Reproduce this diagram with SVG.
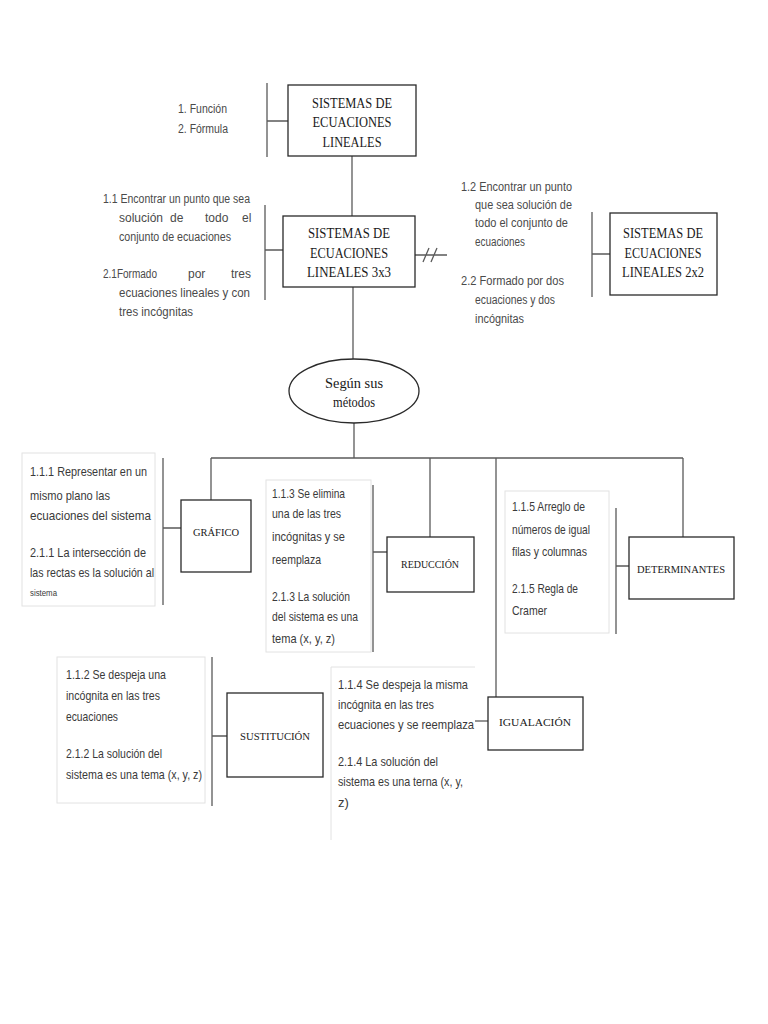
<svg xmlns="http://www.w3.org/2000/svg" width="768" height="1024" viewBox="0 0 768 1024">
<style>
.box{fill:#fff;stroke:#2a2a2a;stroke-width:1.3}
.nbox{fill:#fff;stroke:#e2e2e2;stroke-width:1}
.ln{stroke:#5a5a5a;stroke-width:1.3;fill:none}
.t{font-family:"Liberation Serif","Times New Roman",serif;font-size:15px;fill:#1a1a1a;text-anchor:middle}
.m{font-family:"Liberation Serif","Times New Roman",serif;font-size:11px;fill:#1a1a1a;text-anchor:middle}
.n{font-family:"Liberation Sans Narrow","Liberation Sans",Arial,sans-serif;font-size:12px;fill:#4a4a4a}
.b{font-family:"Liberation Sans Narrow","Liberation Sans",Arial,sans-serif;font-size:13px;fill:#3a3a3a}
.s{font-size:9px}
</style>
<rect width="768" height="1024" fill="#fff"/>
<g id="connectors">
<path class="ln" d="M267 83V157M267 121H288"/>
<path class="ln" d="M352 156V216"/>
<path class="ln" d="M265 205V300M265 250H283"/>
<path class="ln" d="M415 255H447M423 262L429 248M431 262L437 248"/>
<path class="ln" d="M592 212V297M592 254H610"/>
<path class="ln" d="M353 287V359"/>
<path class="ln" d="M354 423V458"/>
<path class="ln" d="M211 458H683"/>
<path class="ln" d="M211 458V500M430 458V537M496 458V697M683 458V537"/>
<path class="ln" d="M163 458V605M163 528H181"/>
<path class="ln" d="M373 485V652M373 552H387"/>
<path class="ln" d="M616 508V634M616 566H629"/>
<path class="ln" d="M212 657V806M212 736H227"/>
<path class="ln" d="M475 721H488"/>
</g>
<g id="n-funcion">
<text class="n" x="178" y="113" textLength="49" lengthAdjust="spacingAndGlyphs">1. Función</text>
<text class="n" x="178" y="133" textLength="50" lengthAdjust="spacingAndGlyphs">2. Fórmula</text>
</g>
<g id="node-top">
<rect class="box" x="288" y="85" width="128" height="71"/>
<text class="t" x="352" y="108" textLength="80" lengthAdjust="spacingAndGlyphs">SISTEMAS DE</text>
<text class="t" x="352" y="127" textLength="79" lengthAdjust="spacingAndGlyphs">ECUACIONES</text>
<text class="t" x="352" y="147" textLength="59" lengthAdjust="spacingAndGlyphs">LINEALES</text>
</g>
<g id="n-3x3">
<text class="n" x="103" y="203" textLength="147" lengthAdjust="spacingAndGlyphs">1.1 Encontrar un punto que sea</text>
<text class="n" x="119" y="222">solución</text>
<text class="n" x="170" y="222">de</text>
<text class="n" x="205" y="222">todo</text>
<text class="n" x="242" y="222">el</text>
<text class="n" x="119" y="241" textLength="112" lengthAdjust="spacingAndGlyphs">conjunto de ecuaciones</text>
<text class="n" x="103" y="278" textLength="54" lengthAdjust="spacingAndGlyphs">2.1Formado</text>
<text class="n" x="188" y="278">por</text>
<text class="n" x="231" y="278">tres</text>
<text class="n" x="119" y="297" textLength="131" lengthAdjust="spacingAndGlyphs">ecuaciones  lineales  y  con</text>
<text class="n" x="119" y="316" textLength="74" lengthAdjust="spacingAndGlyphs">tres  incógnitas</text>
</g>
<g id="node-3x3">
<rect class="box" x="283" y="216" width="132" height="71"/>
<text class="t" x="349" y="238" textLength="82" lengthAdjust="spacingAndGlyphs">SISTEMAS DE</text>
<text class="t" x="349" y="258" textLength="78" lengthAdjust="spacingAndGlyphs">ECUACIONES</text>
<text class="t" x="349" y="277" textLength="84" lengthAdjust="spacingAndGlyphs">LINEALES 3x3</text>
</g>
<g id="n-2x2">
<text class="n" x="461" y="191" textLength="111" lengthAdjust="spacingAndGlyphs">1.2  Encontrar un punto</text>
<text class="n" x="475" y="209" textLength="97" lengthAdjust="spacingAndGlyphs">que sea solución de</text>
<text class="n" x="475" y="227" textLength="93" lengthAdjust="spacingAndGlyphs">todo el conjunto de</text>
<text class="n" x="475" y="246" textLength="50" lengthAdjust="spacingAndGlyphs">ecuaciones</text>
<text class="n" x="461" y="285" textLength="103" lengthAdjust="spacingAndGlyphs">2.2  Formado por dos</text>
<text class="n" x="475" y="304" textLength="80" lengthAdjust="spacingAndGlyphs">ecuaciones y dos</text>
<text class="n" x="475" y="323" textLength="49" lengthAdjust="spacingAndGlyphs">incógnitas</text>
</g>
<g id="node-2x2">
<rect class="box" x="610" y="213" width="107" height="82"/>
<text class="t" x="663" y="238" textLength="80" lengthAdjust="spacingAndGlyphs">SISTEMAS DE</text>
<text class="t" x="663" y="258" textLength="77" lengthAdjust="spacingAndGlyphs">ECUACIONES</text>
<text class="t" x="663" y="277" textLength="82" lengthAdjust="spacingAndGlyphs">LINEALES 2x2</text>
</g>
<g id="node-metodos">
<ellipse cx="354" cy="391" rx="65" ry="32" fill="#fff" stroke="#2a2a2a" stroke-width="1.3"/>
<text class="t" x="354" y="388" font-size="14" textLength="58" lengthAdjust="spacingAndGlyphs">Según  sus</text>
<text class="t" x="354" y="407" font-size="14" textLength="42" lengthAdjust="spacingAndGlyphs">métodos</text>
</g>
<g id="n-grafico">
<rect class="nbox" x="22" y="453" width="133" height="153"/>
<text class="b" x="30" y="476" textLength="117" lengthAdjust="spacingAndGlyphs">1.1.1   Representar en un</text>
<text class="b" x="30" y="500" textLength="80" lengthAdjust="spacingAndGlyphs">mismo plano las</text>
<text class="b" x="30" y="520" textLength="121" lengthAdjust="spacingAndGlyphs">ecuaciones del sistema</text>
<text class="b" x="30" y="557" textLength="116" lengthAdjust="spacingAndGlyphs">2.1.1  La intersección de</text>
<text class="b" x="30" y="577" textLength="124" lengthAdjust="spacingAndGlyphs">las rectas es la solución al</text>
<text class="b s" x="30" y="596" textLength="27" lengthAdjust="spacingAndGlyphs">sistema</text>
</g>
<g id="node-grafico">
<rect class="box" x="181" y="500" width="70" height="72"/>
<text class="m" x="216" y="536" textLength="46" lengthAdjust="spacingAndGlyphs">GRÁFICO</text>
</g>
<g id="n-reduccion">
<rect class="nbox" x="266" y="480" width="105" height="172"/>
<text class="b" x="272" y="498" textLength="73" lengthAdjust="spacingAndGlyphs">1.1.3 Se elimina</text>
<text class="b" x="272" y="518" textLength="69" lengthAdjust="spacingAndGlyphs">una de las tres</text>
<text class="b" x="272" y="541" textLength="73" lengthAdjust="spacingAndGlyphs">incógnitas y se</text>
<text class="b" x="272" y="564" textLength="49" lengthAdjust="spacingAndGlyphs">reemplaza</text>
<text class="b" x="272" y="601" textLength="78" lengthAdjust="spacingAndGlyphs">2.1.3 La solución</text>
<text class="b" x="272" y="621" textLength="86" lengthAdjust="spacingAndGlyphs">del sistema es una</text>
<text class="b" x="272" y="643" textLength="63" lengthAdjust="spacingAndGlyphs">tema (x, y, z)</text>
</g>
<g id="node-reduccion">
<rect class="box" x="387" y="537" width="87" height="55"/>
<text class="m" x="430" y="568" textLength="58" lengthAdjust="spacingAndGlyphs">REDUCCIÓN</text>
</g>
<g id="n-determinantes">
<rect class="nbox" x="505" y="491" width="104" height="142"/>
<text class="b" x="512" y="511" textLength="73" lengthAdjust="spacingAndGlyphs">1.1.5 Arreglo de</text>
<text class="b" x="512" y="534" textLength="78" lengthAdjust="spacingAndGlyphs">números de igual</text>
<text class="b" x="512" y="556" textLength="75" lengthAdjust="spacingAndGlyphs">filas y columnas</text>
<text class="b" x="512" y="593" textLength="66" lengthAdjust="spacingAndGlyphs">2.1.5 Regla de</text>
<text class="b" x="512" y="615" textLength="35" lengthAdjust="spacingAndGlyphs">Cramer</text>
</g>
<g id="node-determinantes">
<rect class="box" x="629" y="537" width="105" height="62"/>
<text class="m" x="681" y="573" textLength="88" lengthAdjust="spacingAndGlyphs">DETERMINANTES</text>
</g>
<g id="n-sustitucion">
<rect class="nbox" x="57" y="657" width="148" height="146"/>
<text class="b" x="66" y="679" textLength="100" lengthAdjust="spacingAndGlyphs">1.1.2  Se despeja una</text>
<text class="b" x="66" y="700" textLength="94" lengthAdjust="spacingAndGlyphs">incógnita  en las tres</text>
<text class="b" x="66" y="721" textLength="52" lengthAdjust="spacingAndGlyphs">ecuaciones</text>
<text class="b" x="66" y="758" textLength="96" lengthAdjust="spacingAndGlyphs">2.1.2 La solución del</text>
<text class="b" x="66" y="779" textLength="136" lengthAdjust="spacingAndGlyphs">sistema es una tema (x, y, z)</text>
</g>
<g id="node-sustitucion">
<rect class="box" x="227" y="693" width="96" height="84"/>
<text class="m" x="275" y="740" textLength="70" lengthAdjust="spacingAndGlyphs">SUSTITUCIÓN</text>
</g>
<g id="n-igualacion">
<path class="nbox" d="M475 667H331V840"/>
<text class="b" x="338" y="689" textLength="130" lengthAdjust="spacingAndGlyphs">1.1.4  Se despeja la  misma</text>
<text class="b" x="338" y="709" textLength="96" lengthAdjust="spacingAndGlyphs">incógnita en las tres</text>
<text class="b" x="338" y="729" textLength="136" lengthAdjust="spacingAndGlyphs">ecuaciones y se reemplaza</text>
<text class="b" x="338" y="766" textLength="100" lengthAdjust="spacingAndGlyphs">2.1.4  La solución del</text>
<text class="b" x="338" y="786" textLength="125" lengthAdjust="spacingAndGlyphs">sistema es una terna (x, y,</text>
<text class="b" x="338" y="807">z)</text>
</g>
<g id="node-igualacion">
<rect class="box" x="488" y="697" width="95" height="53"/>
<text class="m" x="535" y="726" textLength="72" lengthAdjust="spacingAndGlyphs">IGUALACIÓN</text>
</g>
</svg>
